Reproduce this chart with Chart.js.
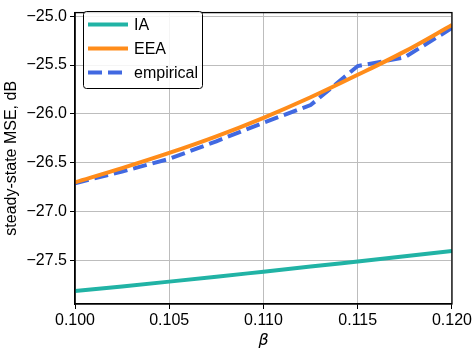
<!DOCTYPE html>
<html lang="en">
<head>
  <meta charset="UTF-8">
  <title>Steady-state MSE vs beta</title>
  <script src="https://cdn.jsdelivr.net/npm/chart.js"></script>
  <style>
    body { margin: 0; background: #fff; }
    #wrap { width: 474px; height: 351px; }
  </style>
</head>
<body>
  <div id="wrap"><canvas id="chart" width="474" height="351"></canvas></div>

  <script>
    // Data
    const betas = [0.100, 0.1025, 0.105, 0.1075, 0.110, 0.1125, 0.115, 0.1175, 0.120];
    const iaValues = [-27.813, -27.766, -27.717, -27.667, -27.615, -27.563, -27.510, -27.457, -27.404];
    const eeaValues = [-26.70, -26.555, -26.40, -26.23, -26.04, -25.83, -25.60, -25.36, -25.09];
    const empiricalValues = [-26.71, -26.59, -26.46, -26.28, -26.09, -25.91, -25.51, -25.42, -25.12];

    const xTicks = [0.100, 0.105, 0.110, 0.115, 0.120];
    const yTicks = [-27.5, -27.0, -26.5, -26.0, -25.5, -25.0];

    const FONT = 'Liberation Sans, Arial, sans-serif';

    function toPoints(values) {
      return betas.map((b, i) => ({ x: b, y: values[i] }));
    }

    function minus(s) {
      return s.replace('-', '\u2212');
    }

    // Frame round the plot area and legend box inside it
    const framePlugin = {
      id: 'frame',
      afterDraw(chart) {
        const { ctx, chartArea } = chart;
        ctx.save();
        ctx.strokeStyle = '#000';
        ctx.lineWidth = 1.3;
        ctx.strokeRect(chartArea.left, chartArea.top,
          chartArea.right - chartArea.left, chartArea.bottom - chartArea.top);

        // legend
        const bx = 83.5, by = 11.5, bw = 119, bh = 77;
        ctx.beginPath();
        ctx.roundRect(bx, by, bw, bh, 3);
        ctx.fillStyle = 'rgba(255,255,255,0.85)';
        ctx.fill();
        ctx.lineWidth = 1;
        ctx.strokeStyle = '#000';
        ctx.stroke();

        const rows = [24.5, 48.5, 72.5];
        chart.data.datasets.forEach((ds, i) => {
          const y = rows[i];
          ctx.beginPath();
          ctx.setLineDash(ds.borderDash || []);
          ctx.strokeStyle = ds.borderColor;
          ctx.lineWidth = ds.borderWidth;
          ctx.moveTo(88, y);
          ctx.lineTo(128, y);
          ctx.stroke();
          ctx.setLineDash([]);
          ctx.fillStyle = '#000';
          ctx.font = '16px ' + FONT;
          ctx.textBaseline = 'middle';
          ctx.textAlign = 'left';
          ctx.fillText(ds.label, 134, y + 1);
        });
        ctx.restore();
      }
    };

    const ctx = document.getElementById('chart').getContext('2d');
    new Chart(ctx, {
      type: 'line',
      data: {
        datasets: [
          {
            label: 'IA',
            data: toPoints(iaValues),
            borderColor: '#21b3a5',
            borderWidth: 4,
            pointRadius: 0,
            cubicInterpolationMode: 'monotone'
          },
          {
            label: 'EEA',
            data: toPoints(eeaValues),
            borderColor: '#ff8c1a',
            borderWidth: 4,
            pointRadius: 0,
            cubicInterpolationMode: 'monotone'
          },
          {
            label: 'empirical',
            data: toPoints(empiricalValues),
            borderColor: '#4169e1',
            borderWidth: 4,
            borderDash: [14, 6],
            pointRadius: 0,
            tension: 0
          }
        ]
      },
      options: {
        responsive: false,
        animation: false,
        layout: { padding: { top: 3, right: 20, left: 0, bottom: 0 } },
        plugins: {
          legend: { display: false },
          tooltip: { enabled: false }
        },
        scales: {
          x: {
            type: 'linear',
            min: 0.100,
            max: 0.120,
            afterFit(scale) { scale.height = 47; },
            afterBuildTicks(scale) { scale.ticks = xTicks.map(v => ({ value: v })); },
            grid: { color: '#bdbdbd', lineWidth: 1, tickColor: '#000', tickLength: 5 },
            border: { color: '#000', width: 1.3 },
            ticks: {
              color: '#000',
              padding: 2,
              maxRotation: 0,
              font: { family: FONT, size: 16 },
              callback: v => v.toFixed(3)
            },
            title: {
              display: true,
              text: 'β',
              color: '#000',
              padding: { top: 0, bottom: 1 },
              font: { family: 'DejaVu Sans, sans-serif', size: 16, style: 'italic' }
            }
          },
          y: {
            min: -27.946,
            max: -24.963,
            afterFit(scale) { scale.width = 75; },
            afterBuildTicks(scale) { scale.ticks = yTicks.map(v => ({ value: v })); },
            grid: { color: '#bdbdbd', lineWidth: 1, tickColor: '#000', tickLength: 5 },
            border: { color: '#000', width: 1.3 },
            ticks: {
              color: '#000',
              padding: 3,
              font: { family: FONT, size: 16 },
              callback: v => minus(v.toFixed(1))
            },
            title: {
              display: true,
              text: 'steady-state MSE, dB',
              color: '#000',
              padding: { top: 2, bottom: 0 },
              font: { family: FONT, size: 16 }
            }
          }
        }
      },
      plugins: [framePlugin]
    });
  </script>
</body>
</html>
